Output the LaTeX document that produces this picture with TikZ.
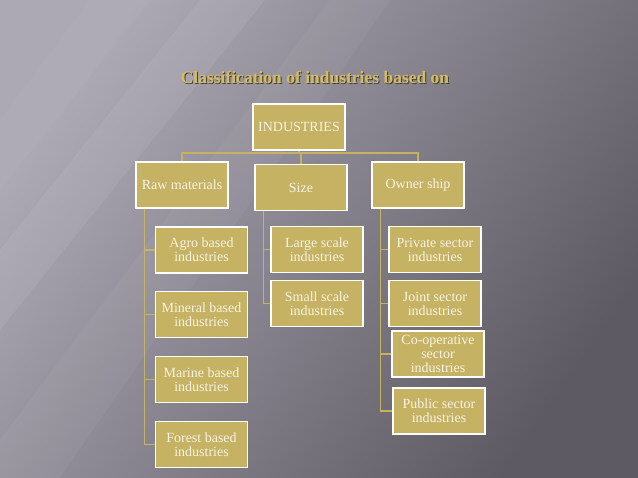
\documentclass[tikz,border=0pt]{standalone}
\usepackage{fontspec}
\setmainfont{Liberation Serif}
\usepackage{tikz}
\usetikzlibrary{calc, positioning}

\definecolor{bgdark}{RGB}{94,90,99}
\definecolor{bglight}{RGB}{172,168,180}
\definecolor{khaki}{RGB}{198,178,99}
\definecolor{cream}{RGB}{247,243,228}
\definecolor{goldtitle}{RGB}{214,188,92}

\begin{document}
\begin{tikzpicture}[x=1pt, y=-1pt,
		box/.style={draw=white, line width=1.5pt, fill=khaki, text=cream,
			minimum width=92pt, minimum height=46pt, inner sep=1pt,
			align=center, font=\fontsize{14}{14}\selectfont},
		link/.style={draw=khaki, line width=1.4pt}]
		% Background
		\useasboundingbox (0,0) rectangle (638,478);
		\fill[bgdark] (0,0) rectangle (638,478);
		\shade[top color=bglight, bottom color=bgdark, shading angle=55] (0,0) rectangle (638,478);
		\fill[white, opacity=0.07] (200,0) -- (265,0) -- (0,330) -- (0,250) -- cycle;
		\fill[white, opacity=0.04] (90,0) -- (150,0) -- (0,190) -- (0,120) -- cycle;
		\fill[white, opacity=0.04] (330,0) -- (390,0) -- (60,478) -- (0,478) -- (0,440) -- cycle;

		% Title
		\node[text=black!75, font=\bfseries\fontsize{17.5}{19}\selectfont] at (316,78) {Classification of industries based on};
		\node[text=goldtitle, font=\bfseries\fontsize{17.5}{19}\selectfont] (title) at (315,77) {Classification of industries based on};

		% Top levels
		\node[box] (ind) at (299,127) {INDUSTRIES};
		\node[box] (raw) at (182,185) {Raw materials};
		\node[box] (size) at (301,187.5) {Size};
		\node[box] (own) at (418,185) {Owner ship};

		% Raw materials
		\node[box] (agro) at (201.5,250) {Agro based\\industries};
		\node[box] (mineral) at (201.5,314.5) {Mineral based\\industries};
		\node[box] (marine) at (201.5,379.5) {Marine based\\industries};
		\node[box] (forest) at (201.5,444.5) {Forest based\\industries};

		% Size
		\node[box] (large) at (317,249.5) {Large scale\\industries};
		\node[box] (small) at (317,303.5) {Small scale\\industries};

		% Owner ship
		\node[box] (private) at (435,249.5) {Private sector\\industries};
		\node[box] (joint) at (435,303.5) {Joint sector\\industries};
		\node[box] (coop) at (438,354) {Co-operative\\sector\\industries};
		\node[box] (public) at (439,411) {Public sector\\industries};

		% Connectors
		\coordinate (hub) at (299,153);
		\draw[link] (ind.south) -- (hub);
		\draw[link] (raw.north) -- (raw.north |- hub) -- (own.north |- hub) -- (own.north);
		\draw[link] (size.north) -- (size.north |- hub);

		\coordinate (rawleg) at ([xshift=9pt]raw.south west);
		\coordinate (sizeleg) at ([xshift=9.5pt]size.south west);
		\coordinate (ownleg) at ([xshift=9pt]own.south west);

		\draw[link] (rawleg) |- (forest.west);
		\foreach \n in {agro, mineral, marine}
			\draw[link] (rawleg |- \n.west) -- (\n.west);
		\draw[link] (sizeleg) |- (small.west);
		\draw[link] (sizeleg |- large.west) -- (large.west);
		\draw[link] (ownleg) |- (public.west);
		\foreach \n in {private, joint, coop}
			\draw[link] (ownleg |- \n.west) -- (\n.west);
	\end{tikzpicture}
\end{document}
